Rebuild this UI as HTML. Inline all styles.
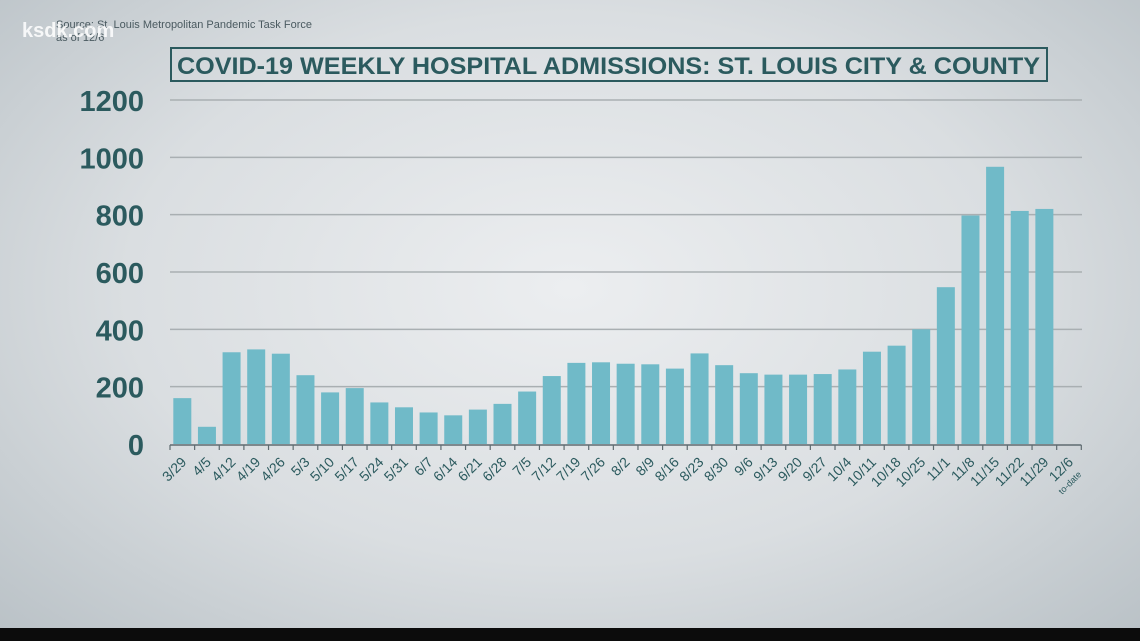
<!DOCTYPE html>
<html><head><meta charset="utf-8"><style>
body{margin:0;width:1140px;height:641px;overflow:hidden;font-family:"Liberation Sans",sans-serif;}
#bg{position:absolute;left:0;top:0;width:1140px;height:641px;background:radial-gradient(ellipse at 50% 45%,#eceef0 0%,#dadee1 55%,#b9c1c6 100%);}
#bar-strip{position:absolute;left:0;top:628px;width:1140px;height:13px;background:#0c0c0c;}
</style></head><body>
<div id="bg"></div>
<svg width="1140" height="641" style="position:absolute;left:0;top:0" id="chart">
<text x="56" y="28" font-size="11" fill="#4a5a60">Source: St. Louis Metropolitan Pandemic Task Force</text>
<text x="56" y="41" font-size="11" fill="#4a5a60">as of 12/6</text>
<text x="22" y="37" font-size="20" font-weight="bold" fill="#ffffff" fill-opacity="0.85">ksdk.com</text>
<rect x="171" y="48" width="876" height="33" fill="none" stroke="#2b5a5e" stroke-width="2"/>
<text x="177" y="74" font-size="24" font-weight="bold" textLength="863" lengthAdjust="spacingAndGlyphs" fill="#2b5a5e">COVID-19 WEEKLY HOSPITAL ADMISSIONS:  ST. LOUIS CITY &amp; COUNTY</text>
<g id="grid"></g><g id="bars"></g><g id="axis"></g>
</svg>
<div id="bar-strip"></div>
<script>
const categories=["3/29","4/5","4/12","4/19","4/26","5/3","5/10","5/17","5/24","5/31","6/7","6/14","6/21","6/28","7/5","7/12","7/19","7/26","8/2","8/9","8/16","8/23","8/30","9/6","9/13","9/20","9/27","10/4","10/11","10/18","10/25","11/1","11/8","11/15","11/22","11/29","12/6"];
const admissions=[160,60,320,330,315,240,180,195,145,128,110,100,120,140,183,237,283,285,280,278,263,316,275,247,242,242,244,260,322,343,400,547,797,967,813,820,0];
const yTicks=[0,200,400,600,800,1000,1200];
const ns="http://www.w3.org/2000/svg";
const x0=170,step=24.63,y0=444,yMax=1200,yTop=100;
const y=v=>y0-(v/yMax)*(y0-yTop);
const xc=i=>x0+step*(i+0.5);
function mk(t,a,p){const e=document.createElementNS(ns,t);for(const k in a)e.setAttribute(k,a[k]);p.appendChild(e);return e;}
const g=document.getElementById('grid'),b=document.getElementById('bars'),ax=document.getElementById('axis');
yTicks.forEach(v=>{
 if(v>0){const l=mk('line',{x1:x0,x2:1082,y1:y(v),y2:y(v),stroke:'#a9afb2','stroke-width':1.5},g);
 }
 const t=mk('text',{x:144,y:y(v)+11,'font-size':29,'font-weight':'bold','text-anchor':'end',fill:'#2b5a5e'},g);t.textContent=v;
 
});
admissions.forEach((v,i)=>{
 if(v<=0)return;
 const r=mk('rect',{x:xc(i)-9,y:y(v),width:18,height:y0-y(v),fill:'#70bac8'},b);
 
});
const al=mk('line',{x1:x0,x2:x0+step*categories.length,y1:y0+1,y2:y0+1,stroke:'#5f6b70','stroke-width':1.5},ax);

for(let i=0;i<=categories.length;i++){mk('line',{x1:x0+step*i,x2:x0+step*i,y1:y0+1,y2:y0+6,stroke:'#5f6b70','stroke-width':1.2},ax);}
categories.forEach((c,i)=>{
 const px=xc(i)+5,py=y0+19;
 const t=mk('text',{x:px,y:py,'font-size':14,'text-anchor':'end',fill:'#2b5a5e',transform:`rotate(-45 ${px} ${py})`},ax);
 t.textContent=c;
});
const tx=xc(36)+13,ty=y0+31;
const td=mk('text',{x:tx,y:ty,'font-size':9,'text-anchor':'end',fill:'#2b5a5e',transform:`rotate(-45 ${tx} ${ty})`},ax);
td.textContent='to-date';
</script>
</body></html>
